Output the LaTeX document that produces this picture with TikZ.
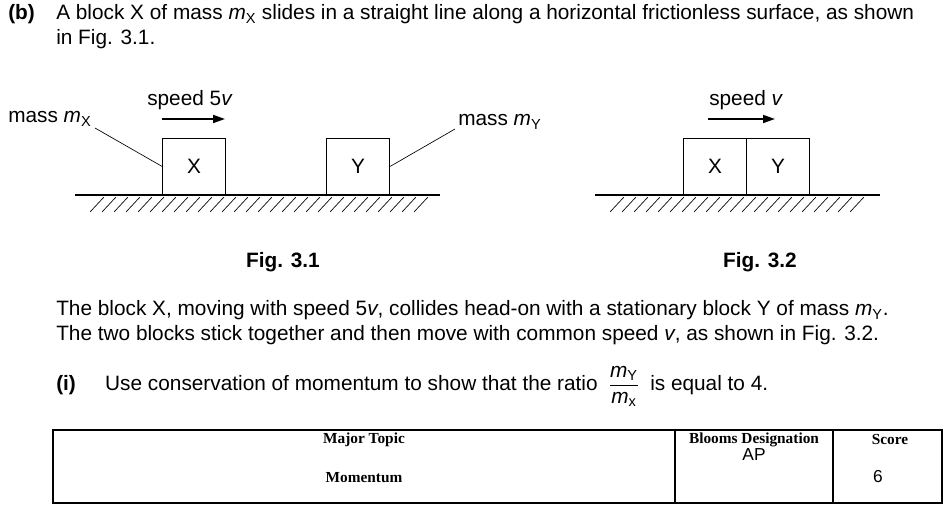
\documentclass[tikz,border=0pt]{standalone}
\usepackage{fontspec}
\setmainfont{Liberation Sans}
\newfontfamily\tms{Liberation Serif}
\newcommand{\mm}[1]{\textit{m}\textsubscript{#1}}
\usetikzlibrary{arrows.meta}
\begin{document}
\begin{tikzpicture}[x=0.75pt,y=-0.75pt,
  txt/.style={anchor=base west,inner sep=0pt,font=\fontsize{15.6}{18}\selectfont},
  blk/.style={draw,line width=0.9pt,minimum width=47.25pt,minimum height=42pt,inner sep=0pt,font=\fontsize{15.6}{18}\selectfont},
  lead/.style={line width=0.5pt},
  arr/.style={line width=1.3pt,-{Triangle[length=9pt,width=6pt]}},
  tb/.style={inner sep=0pt,font=\tms\bfseries\fontsize{11.5}{13}\selectfont}]
\useasboundingbox (0,0) rectangle (951,513);
\node[txt] (b) at (8,20) {\textbf{(b)}};
\node[txt] (l1) at (56,20) {A block X of mass \mm{X} slides in a straight line along a horizontal frictionless surface, as shown};
\node[txt] (l2) at (56,45) {in Fig. 3.1.};
% Fig 3.1
\draw[line width=1pt] (75,195) -- (440,195);
\foreach \x in {90,102,...,420} \draw[line width=0.5pt] (\x,212) -- (\x+14,197);
\node[blk,anchor=south west] (X) at (162,195) {X};
\node[blk,anchor=south west] (Y) at (326,195) {Y};
\coordinate (a1) at (162,119); \coordinate (a2) at (225,119);
\draw[arr] (a1) -- (a2);
\node[txt] (s5) at (147,106) {speed 5\textit{v}};
\node[txt] (mx) at (8,123) {mass \mm{X}};
\coordinate (mxl) at (95,128);
\draw[lead] (mxl) -- (X.west);
\node[txt] (my) at (458,126) {mass \mm{Y}};
\coordinate (myl) at (455,129);
\draw[lead] (myl) -- (Y.east);
\node[txt,anchor=base] (f1) at (283,268) {\textbf{Fig. 3.1}};
% Fig 3.2
\draw[line width=1pt] (595,195) -- (880,195);
\foreach \x in {610,622,...,860} \draw[line width=0.5pt] (\x,212) -- (\x+14,197);
\node[blk,anchor=south west] (X2) at (683,195) {X};
\node[blk,anchor=south west] (Y2) at (746,195) {Y};
\coordinate (b1) at (708,119); \coordinate (b2) at (775,119);
\draw[arr] (b1) -- (b2);
\node[txt] (sv) at (709,106) {speed \textit{v}};
\node[txt,anchor=base] (f2) at (760,268) {\textbf{Fig. 3.2}};
% paragraph
\node[txt] (p1) at (56,316) {The block X, moving with speed 5\textit{v}, collides head-on with a stationary block Y of mass \mm{Y}.};
\node[txt] (p2) at (56,341) {The two blocks stick together and then move with common speed \textit{v}, as shown in Fig. 3.2.};
\node[txt] (i) at (56,391) {\textbf{(i)}\hspace{22pt}Use conservation of momentum to show that the ratio};
\node[inner sep=0pt,font=\fontsize{15.6}{18}\selectfont] (fr) at (624,386) {$\displaystyle\frac{\hbox{\mm{Y}}}{\hbox{\mm{x}}}$};
\node[txt] (i2) at (650,391) {is equal to 4.};
% table
\draw[line width=0.8pt] (53,430) rectangle (942,503);
\draw[line width=0.8pt] (675,430) -- (675,503) (833,430) -- (833,503);
\node[tb] (t1) at (364,440) {Major Topic};
\node[tb] (t2) at (364,478) {Momentum};
\node[tb] (t3) at (754,440) {Blooms Designation};
\node[inner sep=0pt,font=\fontsize{13}{15}\selectfont] (t4) at (754,455) {AP};
\node[tb] (t5) at (890,440) {Score};
\node[inner sep=0pt,font=\fontsize{13}{15}\selectfont] (t6) at (878,477) {6};
\end{tikzpicture}
\end{document}
